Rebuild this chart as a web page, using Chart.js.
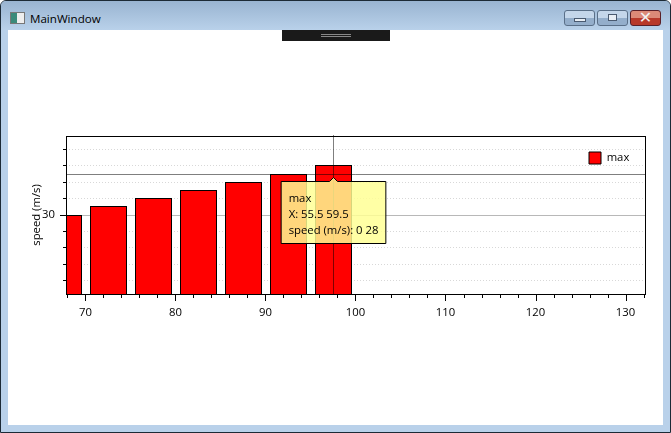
<!DOCTYPE html>
<html>
<head>
<meta charset="utf-8">
<script src="https://cdn.jsdelivr.net/npm/chart.js@4"></script>
<style>
html,body{margin:0;padding:0;background:#fff;overflow:hidden}
#win{position:absolute;left:0;top:0;width:669px;height:431px;border:1px solid #1c2a36;border-radius:6px 6px 0 0;background:#b9d1ea;overflow:hidden}
#bar{position:absolute;left:0;top:0;right:0;height:29px;background:linear-gradient(#99b4d1,#b9d1ea)}
#content{position:absolute;left:7px;top:29px;width:655px;height:395px;background:#fff}
#title{position:absolute;left:29px;top:10px;font:11.6px "Open Sans",sans-serif;color:#000}
#icon{position:absolute;left:9px;top:11px;width:13px;height:10px;border:1px solid #777;background:linear-gradient(90deg,#3a8a7a 45%,#eee 45%)}
.b{position:absolute;top:9px;height:14px;width:29px;border:1px solid #5a6f88;border-radius:3px;background:linear-gradient(#c4d6ea 50%,#94aecb 50%)}
#c{background:linear-gradient(#dc8a78 50%,#b8392a 50%);border-color:#5a2028}
.g{position:absolute;left:9px;top:7px;width:10px;height:2px;background:#e8eef5;border:1px solid #4a5a70}
#grip{position:absolute;left:282px;top:30px;width:108px;height:11px;background:#1a1a1a}
#grip i{position:absolute;left:39px;width:30px;height:1px;background:#888}
canvas{position:absolute;left:0;top:0}
</style>
</head>
<body>
<div id="win">
  <div id="bar"></div>
  <div id="icon"></div>
  <div id="title">MainWindow</div>
  <div class="b" style="left:563px"><div class="g"></div></div>
  <div class="b" style="left:596px"><div class="g" style="left:10px;top:3px;width:7px;height:5px"></div></div>
  <div class="b" id="c" style="left:629px"><div style="position:absolute;left:0;right:0;top:-3px;text-align:center;color:#f2f2f2;font:bold 16px 'DejaVu Sans'">✕</div></div>
  <div id="content"></div>
</div>
<div id="grip"><i style="top:4px"></i><i style="top:6px"></i></div>
<div style="position:absolute;left:0;top:0;width:671px;height:433px"><canvas id="chart" width="671" height="433"></canvas></div>
<script>
const seriesName = 'max';
const binCenters = [67.5, 72.5, 77.5, 82.5, 87.5, 92.5, 97.5];
const maxValues = [30, 31.1, 32.08, 33.05, 34.03, 35, 36.1];
const yAxisTitle = 'speed (m/s)';
const tooltipLines = ['X: 55.5 59.5', 'speed (m/s): 0 28'];
const cursorX = 97.5;
const cursorY = 35;
const xRange = [67.778, 132.111];
const yRange = [20.372, 39.64];
const uiFont = '"Open Sans", sans-serif';
const textSize = 11.3;

Chart.Tooltip.positioners.cursor = function () {
  const c = this.chart;
  return { x: Math.floor(c.scales.x.getPixelForValue(cursorX)) + 0.5,
           y: Math.floor(c.scales.y.getPixelForValue(cursorY)) + 3.5 };
};

const decorations = {
  id: 'decorations',
  afterLayout(chart) {
    const l = chart.legend;
    l.left = 583; l.top = 146; l.right = 671; l.bottom = 200;
  },
  beforeDatasetsDraw(chart) {
    const { ctx, scales: { x, y }, chartArea: a } = chart;
    ctx.save();
    ctx.strokeStyle = '#000';
    ctx.lineWidth = 1;
    ctx.beginPath();
    x.ticks.forEach(t => {
      const p = Math.ceil(x.getPixelForValue(t.value)) - 0.5;
      const l = t.value % 10 === 0 ? 7 : 4;
      ctx.moveTo(p, a.bottom); ctx.lineTo(p, a.bottom + l);
    });
    y.ticks.forEach(t => {
      const p = Math.floor(y.getPixelForValue(t.value)) + 0.5;
      const l = t.value % 10 === 0 ? 6 : 3;
      ctx.moveTo(a.left, p); ctx.lineTo(a.left - l, p);
    });
    ctx.stroke();
    ctx.restore();
  },
  afterDatasetsDraw(chart) {
    const { ctx, scales: { x, y }, chartArea: a } = chart;
    ctx.save();
    ctx.lineWidth = 1;
    ctx.strokeStyle = '#000';
    ctx.strokeRect(a.left + 0.5, a.top + 0.5, a.right - a.left, a.bottom - a.top);
    const px = Math.floor(x.getPixelForValue(cursorX)) + 0.5;
    const py = Math.floor(y.getPixelForValue(cursorY)) + 0.5;
    ctx.strokeStyle = 'rgba(0,0,0,0.5)';
    ctx.beginPath();
    ctx.moveTo(px, a.top - 1); ctx.lineTo(px, a.bottom);
    ctx.moveTo(a.left, py); ctx.lineTo(a.right, py);
    ctx.stroke();
    ctx.restore();
  }
};

const chart = new Chart(document.getElementById('chart'), {
  type: 'bar',
  data: {
    datasets: [{
      label: seriesName,
      data: binCenters.map((c, i) => ({ x: c, y: maxValues[i] })),
      backgroundColor: '#ff0000',
      borderColor: '#000000',
      borderWidth: 1,
      barPercentage: 2.0556,
      categoryPercentage: 1
    }]
  },
  plugins: [decorations],
  options: {
    responsive: false,
    animation: false,
    events: [],
    layout: { padding: { left: 0, top: 136, right: 26, bottom: 0 } },
    scales: {
      x: {
        type: 'linear',
        offset: false,
        min: xRange[0],
        max: xRange[1],
        afterBuildTicks(s) {
          const v = [];
          for (let k = 68; k <= 132; k += 2) v.push({ value: k });
          s.ticks = v;
        },
        afterFit(s) { s.height = 139; },
        grid: { display: false, drawTicks: false },
        border: { display: false },
        ticks: {
          autoSkip: false, maxRotation: 0, padding: 12, labelOffset: -0.5,
          color: '#000', font: { family: uiFont, size: textSize },
          callback: v => (v % 10 === 0 ? String(v) : '')
        }
      },
      y: {
        min: yRange[0],
        max: yRange[1],
        afterBuildTicks(s) {
          const v = [];
          for (let k = 22; k <= 38; k += 2) v.push({ value: k });
          s.ticks = v;
        },
        afterFit(s) { s.width = 66; },
        grid: {
          drawTicks: false,
          color: c => (c.tick && c.tick.value % 10 === 0 ? '#b8b8b8' : '#d8d8d8')
        },
        border: {
          display: false,
          dash: c => (c.tick && c.tick.value % 10 === 0 ? [] : [1, 2])
        },
        title: {
          display: true, text: yAxisTitle, color: '#000',
          font: { family: uiFont, size: textSize }, padding: { top: 30, bottom: 0 }
        },
        ticks: {
          autoSkip: false, padding: 11, color: '#000',
          font: { family: uiFont, size: textSize },
          callback: v => (v % 10 === 0 ? String(v) : '')
        }
      }
    },
    plugins: {
      legend: {
        position: 'chartArea',
        align: 'start',
        labels: {
          boxWidth: 12, boxHeight: 12, padding: 6, color: '#000',
          font: { family: uiFont, size: textSize }
        }
      },
      tooltip: {
        enabled: true,
        animation: false,
        position: 'cursor',
        xAlign: 'center',
        yAlign: 'top',
        caretSize: 4,
        caretPadding: 0,
        cornerRadius: 0,
        displayColors: false,
        backgroundColor: 'rgba(255,255,148,0.84)',
        borderColor: '#000',
        borderWidth: 1,
        titleColor: '#000',
        bodyColor: '#000',
        titleFont: { family: uiFont, size: textSize, weight: 'normal', lineHeight: '16px' },
        bodyFont: { family: uiFont, size: textSize, lineHeight: '16px' },
        titleMarginBottom: 0,
        bodySpacing: 0,
        padding: { left: 7.5, right: 7.5, top: 9, bottom: 5 },
        callbacks: {
          title: () => seriesName,
          label: () => tooltipLines
        }
      }
    }
  }
});
chart.tooltip.setActiveElements([{ datasetIndex: 0, index: 6 }], { x: 333, y: 174 });
chart.update();
</script>
</body>
</html>
